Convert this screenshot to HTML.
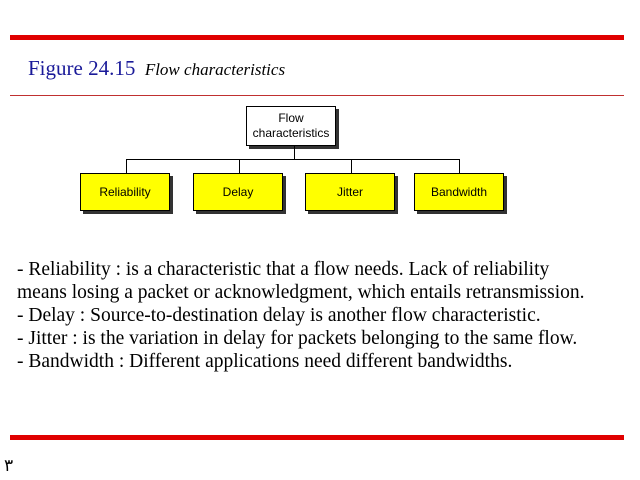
<!DOCTYPE html>
<html><head><style>
body{margin:0;width:640px;height:480px;background:#fff;position:relative;overflow:hidden;font-family:"Liberation Serif",serif}
.a{position:absolute}
.box{position:absolute;border:1px solid #000;box-shadow:3px 3px 0 #333;font-family:"Liberation Sans",sans-serif;font-size:12px;text-align:center;box-sizing:border-box}
.y{background:#ff0;height:38px;line-height:36px;width:90px;top:173px}
.l{position:absolute;background:#000}
p{margin:0;position:absolute;left:17px;font-size:19.5px;color:#000;white-space:nowrap;line-height:23px}
</style></head><body>
<div class="a" style="left:10px;top:35px;width:614px;height:5px;background:#e00000"></div>
<div class="a" style="left:28px;top:56px;font-size:21px;color:#1a1a99">Figure 24.15 <i style="color:#000;font-size:17px">&nbsp;Flow characteristics</i></div>
<div class="a" style="left:10px;top:95px;width:614px;height:1px;background:#c03030"></div>
<div class="box" style="left:246px;top:106px;width:90px;height:40px;background:#fff;line-height:15px;padding-top:4px">Flow<br>characteristics</div>
<div class="l" style="left:294px;top:146px;width:1px;height:14px"></div>
<div class="l" style="left:126px;top:159px;width:334px;height:1px"></div>
<div class="l" style="left:126px;top:159px;width:1px;height:14px"></div>
<div class="l" style="left:239px;top:159px;width:1px;height:14px"></div>
<div class="l" style="left:351px;top:159px;width:1px;height:14px"></div>
<div class="l" style="left:459px;top:159px;width:1px;height:14px"></div>
<div class="box y" style="left:80px">Reliability</div>
<div class="box y" style="left:193px">Delay</div>
<div class="box y" style="left:305px">Jitter</div>
<div class="box y" style="left:414px">Bandwidth</div>
<p style="top:258px">- Reliability : is a characteristic that a flow needs. Lack of reliability</p>
<p style="top:281px">means losing a packet or acknowledgment, which entails retransmission.</p>
<p style="top:304px">- Delay : Source-to-destination delay is another flow characteristic.</p>
<p style="top:327px">- Jitter : is the variation in delay for packets belonging to the same flow.</p>
<p style="top:350px">- Bandwidth : Different applications need different bandwidths.</p>
<div class="a" style="left:10px;top:435px;width:614px;height:5px;background:#e00000"></div>
<div class="a" style="left:4px;top:456px;font-size:17px;font-family:'DejaVu Sans',sans-serif">٣</div>
</body></html>
